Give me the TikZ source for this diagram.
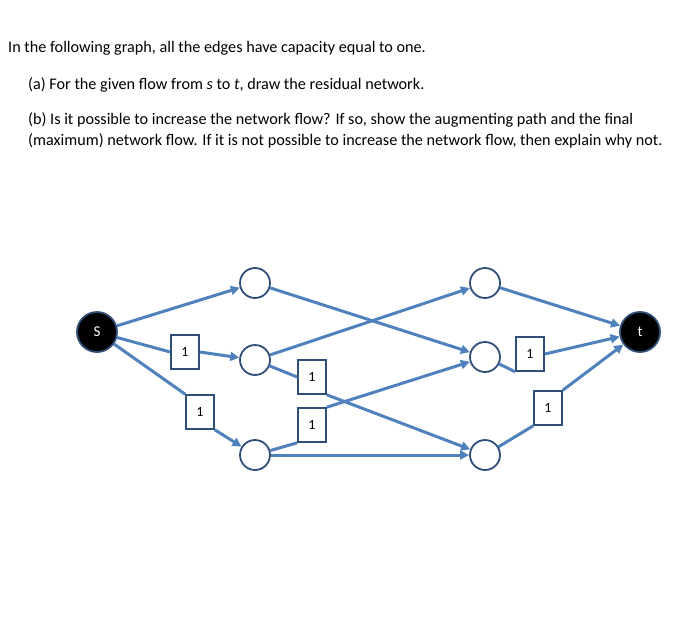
\documentclass[tikz,border=0pt]{standalone}
\usepackage{fontspec}
\setmainfont{Carlito}
\usetikzlibrary{arrows.meta}
\definecolor{edge}{HTML}{4F81BD}
\definecolor{ring}{HTML}{2F4F7A}
\tikzset{
 vtx/.style={circle,draw=ring,line width=1.8pt,fill=white,minimum size=30pt,inner sep=0},
 term/.style={circle,draw=ring,line width=1.8pt,fill=black,text=white,minimum size=40pt,inner sep=0,font=\fontsize{15}{17}\selectfont},
 fbox/.style={draw=ring,line width=1.6pt,fill=white,minimum width=28pt,minimum height=34pt,inner sep=0,font=\fontsize{14}{16}\selectfont},
 ed/.style={draw=edge,line width=3pt},
 ea/.style={ed,-{Triangle[length=9pt,width=9pt]}},
 txt/.style={anchor=west,font=\fontsize{16.2}{19}\selectfont,inner sep=0}
}
\begin{document}
\begin{tikzpicture}[x=1pt,y=-1pt]
\useasboundingbox (0,0) rectangle (700,616);
\node[txt] (l1) at (8,48) {In the following graph, all the edges have capacity equal to one.};
\node[txt] (l2) at (28,85) {(a) For the given flow from \textit{s} to \textit{t}, draw the residual network.};
\node[txt] (l3) at (28,120) {(b) Is it possible to increase the network flow? If so, show the augmenting path and the final};
\node[txt] (l4) at (28,141) {(maximum) network flow. If it is not possible to increase the network flow, then explain why not.};
\node[vtx] (a1) at (255,283) {};
\node[vtx] (a2) at (255,360) {};
\node[vtx] (a3) at (255,455) {};
\node[vtx] (b1) at (485,283) {};
\node[vtx] (b2) at (485,357) {};
\node[vtx] (b3) at (485,455) {};
\node[term] (s) at (97,332) {S};
\node[term] (t) at (640,332) {t};
\draw[ea] (s) -- (a1);
\draw[ea] (a1) -- (b2);
\draw[ea] (a2) -- (b1);
\draw[ea] (a3) -- (b3);
\draw[ea] (b1) -- (t);
\node[fbox] (f1) at (185,352) {1};
\node[fbox] (f2) at (200,412) {1};
\node[fbox] (f3) at (312,377) {1};
\node[fbox] (f4) at (312,425) {1};
\node[fbox] (f5) at (530,354) {1};
\node[fbox] (f6) at (548,408) {1};
\draw[ed] (s) -- (f1.west);
\draw[ea] (f1.east) -- (a2);
\draw[ed] (s) -- (f2.north west);
\draw[ea] (f2.south east) -- (a3);
\draw[ed] (a2) -- (f3.west);
\draw[ea] (f3.south east) -- (b3);
\draw[ed] (a3) -- (f4.south west);
\draw[ea] (f4.north east) -- (b2);
\draw[ed] (b2) -- (f5.south west);
\draw[ea] (f5.east) -- (t);
\draw[ed] (b3) -- (f6.south west);
\draw[ea] (f6.north east) -- (t);
\end{tikzpicture}
\end{document}
